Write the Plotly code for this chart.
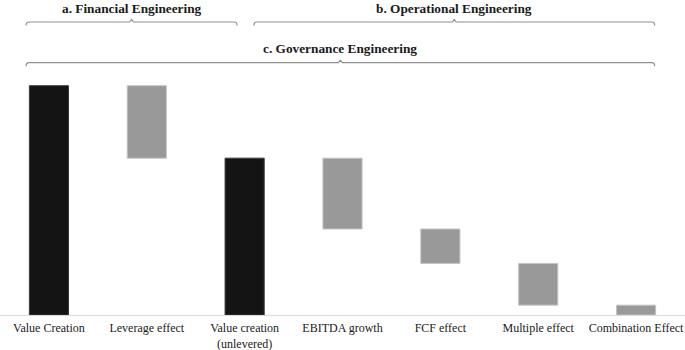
import plotly.graph_objects as go

categories = ["Value Creation", "Leverage effect", "Value creation (unlevered)",
              "EBITDA growth", "FCF effect", "Multiple effect", "Combination Effect"]
tick_labels = ["Value Creation", "Leverage effect", "Value creation<br>(unlevered)",
               "EBITDA growth", "FCF effect", "Multiple effect", "Combination Effect"]
values = [100, 31.6, 68.4, 30.9, 15.0, 18.2, 4.3]
kinds = ["total", "delta", "total", "delta", "delta", "delta", "delta"]

group_labels = ["a. Financial Engineering", "b. Operational Engineering", "c. Governance Engineering"]
# bracket spans in category-axis units, and row (top / lower)
group_spans = [(-0.234, 1.923), (2.094, 6.19), (-0.234, 6.19)]
group_rows = ["top", "top", "low"]

# waterfall bases from the data
bases, heights, colors, lines = [], [], [], []
level = 0
for v, k in zip(values, kinds):
    if k == "total":
        level = v
        bases.append(0)
        heights.append(v)
        colors.append("#141414")
        lines.append("#3a3a3a")
    else:
        level = level - v
        bases.append(level)
        heights.append(v)
        colors.append("#999999")
        lines.append("#c4c4c4")

fig = go.Figure(go.Bar(
    x=categories, y=heights, base=bases, width=0.40,
    marker=dict(color=colors, line=dict(color=lines, width=1)),
    hoverinfo="skip",
))

H, T, B = 350, 70, 35
PH = H - T - B


def py(p):
    return (H - B - p) / PH


shapes, annotations = [], []
for label, (x0, x1), lvl in zip(group_labels, group_spans, group_rows):
    xm = (x0 + x1) / 2
    yline = 22 if lvl == "top" else 62.7
    ytext = 8.5 if lvl == "top" else 48
    yl = py(yline)
    yd = py(yline + 3.5)
    yu = py(yline - 2.5)
    path = (f"M {x0},{yd} Q {x0},{yl} {x0 + 0.03},{yl} L {xm - 0.02},{yl} "
            f"L {xm},{yu} L {xm + 0.02},{yl} L {x1 - 0.03},{yl} Q {x1},{yl} {x1},{yd}")
    shapes.append(dict(type="path", xref="x", yref="paper", path=path,
                       line=dict(color="#8f8f8f", width=1.2)))
    annotations.append(dict(x=xm, y=py(ytext), xref="x", yref="paper",
                            text=f"<b>{label}</b>", showarrow=False,
                            xanchor="center", yanchor="middle",
                            font=dict(family="Liberation Serif", size=13.3, color="#1a1a1a")))

fig.update_layout(
    width=685, height=H,
    margin=dict(l=0, r=0, t=T, b=B, autoexpand=False),
    paper_bgcolor="white", plot_bgcolor="white",
    showlegend=False,
    shapes=shapes, annotations=annotations,
    bargap=0.6,
    font=dict(family="Liberation Serif", size=12, color="#1a1a1a"),
)
fig.update_xaxes(
    type="category", tickvals=categories, ticktext=tick_labels,
    showline=True, linecolor="#d9d9d9", linewidth=1,
    showgrid=False, ticks="", range=[-0.5, 6.5], automargin=False,
    ticklabelstandoff=2,
    tickfont=dict(family="Liberation Serif", size=12, color="#1a1a1a"),
)
fig.update_yaxes(range=[0, 100 * PH / (315 - 85.7)], visible=False, showgrid=False,
                 automargin=False)

fig.write_html("out.html", config={"displayModeBar": False},
               post_script="document.body.style.margin='0';")
